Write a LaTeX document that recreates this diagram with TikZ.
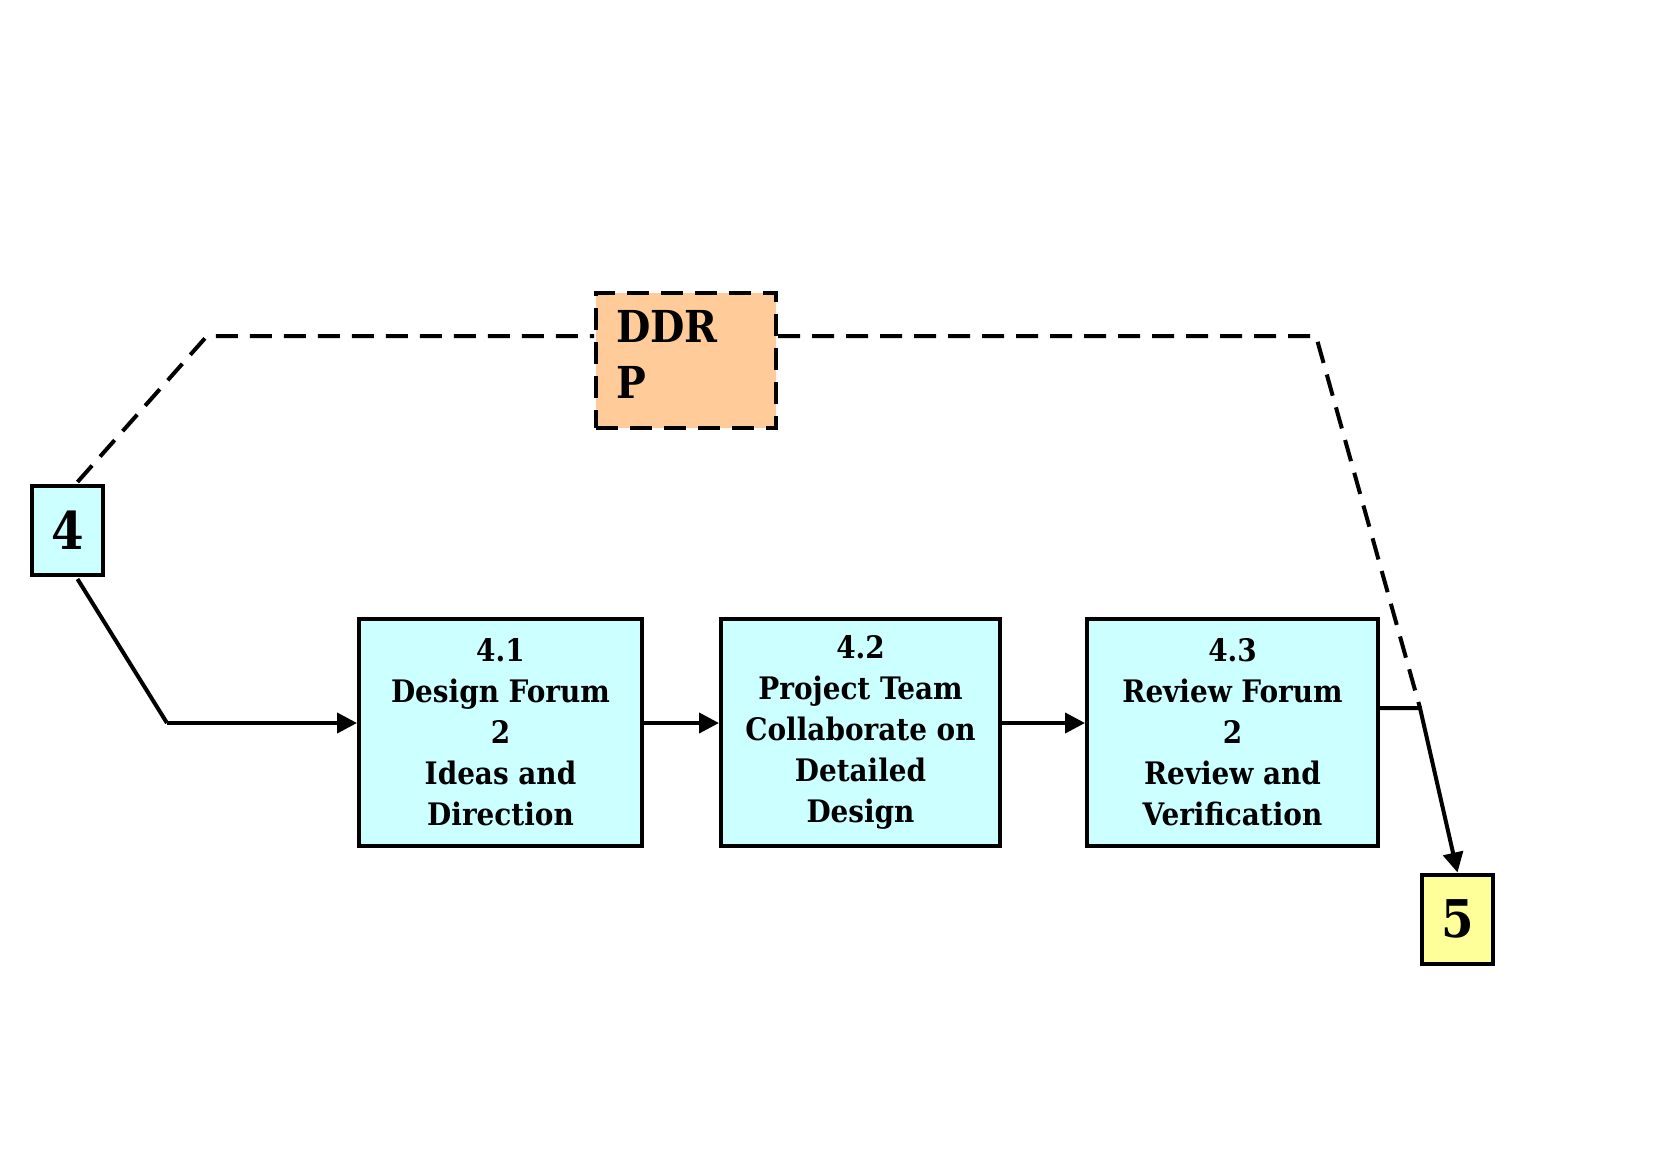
\documentclass[tikz,border=0pt]{standalone}
\usepackage{fontspec}
\setmainfont{DejaVu Serif Condensed}
\usetikzlibrary{arrows.meta}
\definecolor{boxcyan}{HTML}{CCFFFF}
\definecolor{boxyellow}{HTML}{FFFF99}
\definecolor{boxorange}{HTML}{FFCC99}
\begin{document}
\begin{tikzpicture}[x=1pt,y=-1pt,
  stepbox/.style={draw,line width=4pt,fill=boxcyan,align=center,inner sep=0pt,
    font=\fontsize{31}{41}\selectfont\bfseries},
  numbox/.style={draw,line width=4pt,inner sep=0pt,minimum width=71pt,minimum height=89pt,
    font=\fontsize{52}{60}\selectfont\bfseries},
  flow/.style={line width=4pt,-{Triangle[length=20pt,width=20pt]}},
  dashline/.style={line width=4pt,dash pattern=on 22pt off 12pt}]
\useasboundingbox (0,0) rectangle (1659,1160);
\node[numbox,fill=boxcyan] (n4) at (67.5,530.5) {4};
\node[numbox,fill=boxyellow] (n5) at (1457.5,919) {5};
\node[draw,dashline,fill=boxorange,minimum width=180pt,minimum height=135pt,inner sep=0pt] (ddrp) at (686,360.5) {};
\node[anchor=north west,align=left,inner sep=0pt,font=\fontsize{44}{56}\selectfont\bfseries] (ddrpt) at (616,310) {DDR\\P};
\node[stepbox,minimum width=283pt,minimum height=227pt] (s1) at (500.5,732.5) {4.1\\Design Forum\\2\\Ideas and\\Direction};
\node[stepbox,minimum width=279pt,minimum height=227pt] (s2) at (860.5,732.5) {4.2\\Project Team\\Collaborate on\\Detailed\\Design};
\node[stepbox,minimum width=291pt,minimum height=227pt] (s3) at (1232.5,732.5) {4.3\\Review Forum\\2\\Review and\\Verification};
\coordinate (a) at (167,723);
\coordinate (b) at (207,336);
\coordinate (c) at (1316,336);
\coordinate (d) at (1420,708);
\draw[dashline] (n4.north) ++(10,-2) -- (b) -- (ddrp.west |- b);
\draw[dashline] (ddrp.east |- c) -- (c) -- (d);
\draw[line width=4pt] (n4.south) ++(10,2) -- (a);
\draw[flow] (a) -- (s1.west |- a);
\draw[flow] (s1.east |- a) -- (s2.west |- a);
\draw[flow] (s2.east |- a) -- (s3.west |- a);
\draw[flow] (s3.east |- d) -- (d) -- (n5.north);
\end{tikzpicture}
\end{document}
